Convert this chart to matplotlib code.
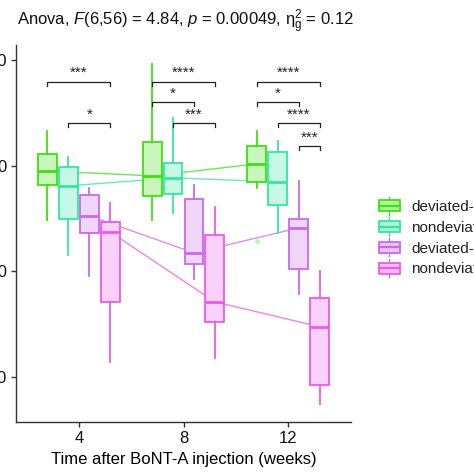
import matplotlib
matplotlib.use("Agg")
import matplotlib.pyplot as plt
from matplotlib.legend_handler import HandlerBase
from matplotlib.patches import Rectangle
from matplotlib.lines import Line2D
import matplotlib.colors as mcolors

plt.rcParams['font.family'] = ['Liberation Sans', 'DejaVu Sans']
plt.rcParams['mathtext.fontset'] = 'custom'
plt.rcParams['mathtext.rm'] = 'Liberation Sans'
plt.rcParams['mathtext.it'] = 'Liberation Sans:italic'

weeks = ["4", "8", "12"]
groups = ["deviated-contralateral", "nondeviated-contralateral",
          "deviated-ipsilateral", "nondeviated-ipsilateral"]
edge_colors = ["#3fe012", "#33e6a3", "#c86aee", "#ee5ae6"]

# per group: lists over weeks
whislo = {
    "deviated-contralateral":   [-25.7, -25.7, -10.6],
    "nondeviated-contralateral": [-42.3, -22.4, -31.9],
    "deviated-ipsilateral":     [-52.2, -53.6, -60.7],
    "nondeviated-ipsilateral":  [-92.9, -91.0, -112.8],
}
q1 = {
    "deviated-contralateral":   [-9.1, -14.3, -7.7],
    "nondeviated-contralateral": [-25.2, -13.4, -18.6],
    "deviated-ipsilateral":     [-31.9, -46.5, -48.9],
    "nondeviated-ipsilateral":  [-64.5, -74.0, -103.8],
}
med = {
    "deviated-contralateral":   [-2.5, -4.9, 0.8],
    "nondeviated-contralateral": [-9.6, -5.8, -7.7],
    "deviated-ipsilateral":     [-23.8, -41.3, -29.5],
    "nondeviated-ipsilateral":  [-31.4, -64.5, -76.3],
}
q3 = {
    "deviated-contralateral":   [5.5, 11.2, 9.3],
    "nondeviated-contralateral": [-0.6, 1.3, 6.5],
    "deviated-ipsilateral":     [-13.9, -15.8, -25.2],
    "nondeviated-ipsilateral":  [-26.7, -33.0, -62.6],
}
whishi = {
    "deviated-contralateral":   [16.4, 48.2, 16.4],
    "nondeviated-contralateral": [4.1, 22.6, 11.7],
    "deviated-ipsilateral":     [-10.6, -9.1, -7.2],
    "nondeviated-ipsilateral":  [-17.7, -19.6, -49.9],
}
outliers = {
    "deviated-contralateral":   [[], [], [-35.7]],
    "nondeviated-contralateral": [[], [], []],
    "deviated-ipsilateral":     [[], [], []],
    "nondeviated-ipsilateral":  [[], [], []],
}

# significance brackets: (week index, group_from, group_to, y, label)
brackets = [
    (0, 0, 3, 39.8, "***"),
    (0, 1, 3, 20.2, "*"),
    (1, 0, 3, 39.8, "****"),
    (1, 0, 2, 30.2, "*"),
    (1, 1, 3, 20.2, "***"),
    (2, 0, 3, 39.8, "****"),
    (2, 0, 2, 30.2, "*"),
    (2, 1, 3, 20.2, "****"),
    (2, 2, 3, 9.3, "***"),
]

yticks = [50, 0, -50, -100]
ytick_labels = ["50", "0", "-50", "-100"]

def light(c, a):
    r, g, b = mcolors.to_rgb(c)
    return (r + (1 - r) * (1 - a), g + (1 - g) * (1 - a), b + (1 - b) * (1 - a))

fig = plt.figure(figsize=(4.74, 4.74), dpi=100)
ax = fig.add_axes([16/474, 1-422/474, 335/474, 377/474])

offsets = [-0.3, -0.1, 0.1, 0.3]
bw = 0.18
for gi, g in enumerate(groups):
    c = edge_colors[gi]
    xs = [wi + 1 + offsets[gi] for wi in range(len(weeks))]
    ax.plot(xs, med[g], color=light(c, 0.75), lw=1.0, zorder=1)
    stats = []
    for wi in range(len(weeks)):
        stats.append(dict(whislo=whislo[g][wi], q1=q1[g][wi], med=med[g][wi],
                          q3=q3[g][wi], whishi=whishi[g][wi], fliers=outliers[g][wi]))
    ax.bxp(stats, positions=xs, widths=bw, patch_artist=True, showcaps=False,
           boxprops=dict(facecolor=light(c, 0.28), edgecolor=c, linewidth=1.3),
           whiskerprops=dict(color=c, linewidth=1.3),
           medianprops=dict(color=c, linewidth=2.0),
           flierprops=dict(marker='o', markersize=3.5, markerfacecolor=light(c, 0.35),
                           markeredgecolor='none'),
           manage_ticks=False, zorder=2)

for wi, ga, gb, y, lab in brackets:
    x1 = wi + 1 + offsets[ga]
    x2 = wi + 1 + offsets[gb]
    h = 2.0
    ax.plot([x1, x1, x2, x2], [y - h, y, y, y - h], color="#222222", lw=0.9, zorder=3)
    ax.text((x1 + x2) / 2, y + 0.6, lab, ha='center', va='bottom', fontsize=11, color="#222222")

ax.set_xlim(0.4, 3.6)
ax.set_ylim(-121.4, 57.1)
ax.set_xticks([1, 2, 3])
ax.set_xticklabels(weeks, fontsize=12)
ax.set_yticks(yticks)
ax.set_yticklabels(ytick_labels, fontsize=12)
for s in ["top", "right"]:
    ax.spines[s].set_visible(False)
for s in ["left", "bottom"]:
    ax.spines[s].set_color("#333333")
    ax.spines[s].set_linewidth(1.0)
ax.tick_params(length=3.5, width=1.0, color="#333333", labelcolor="#111111", pad=3)
ax.set_xlabel("Time after BoNT-A injection (weeks)", fontsize=12, labelpad=4.5)

fig.text(17/474, 1-22/474,
         r"Anova, $\it{F}$(6,56) = 4.84, $\it{p}$ = 0.00049, $\mathrm{\eta}^{2}_{\rm g}$ = 0.12",
         fontsize=12, va='center', ha='left', color="#111111")


class HandlerBoxKey(HandlerBase):
    def __init__(self, color):
        super().__init__()
        self.color = color

    def create_artists(self, legend, orig_handle, xdescent, ydescent, width, height, fontsize, trans):
        c = self.color
        cx = width / 2 - xdescent
        rect = Rectangle((-xdescent, -ydescent + height * 0.05), width, height * 0.9,
                         facecolor=light(c, 0.4), edgecolor=c, lw=1.3, transform=trans)
        mline = Line2D([-xdescent, -xdescent + width], [height / 2 - ydescent] * 2,
                       color=c, lw=1.6, transform=trans)
        w1 = Line2D([cx, cx], [-ydescent + height * 0.95, -ydescent + height * 1.25],
                    color=c, lw=1.0, transform=trans)
        w2 = Line2D([cx, cx], [-ydescent - height * 0.25, -ydescent + height * 0.05],
                    color=c, lw=1.0, transform=trans)
        return [w1, w2, rect, mline]


handles = [Rectangle((0, 0), 1, 1) for _ in groups]
hmap = {h: HandlerBoxKey(edge_colors[i]) for i, h in enumerate(handles)}
leg = fig.legend(handles, groups, handler_map=hmap, loc='center left',
                 bbox_to_anchor=(379/474, 1-238/474), frameon=False, fontsize=11,
                 handlelength=1.35, handleheight=0.85, labelspacing=0.42, handletextpad=0.75,
                 borderaxespad=0, borderpad=0)
for t in leg.get_texts():
    t.set_color("#222222")

fig.savefig("out.png", dpi=100)
